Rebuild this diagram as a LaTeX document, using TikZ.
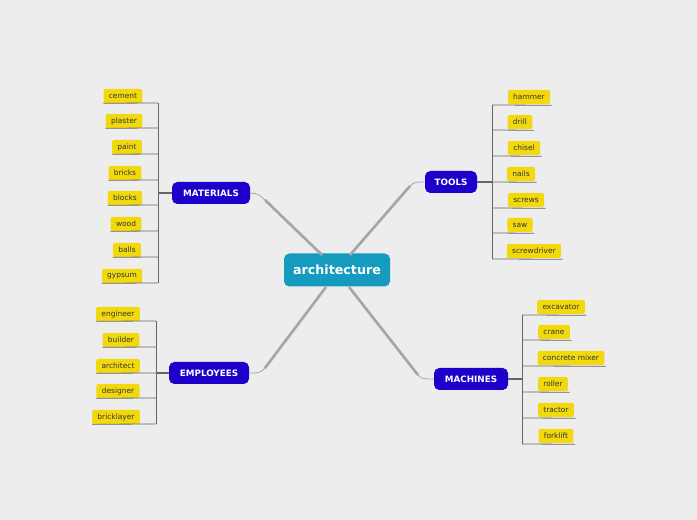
\documentclass[tikz,border=0pt]{standalone}
\usepackage{fontspec}
\setmainfont{DejaVu Sans}
\begin{document}
\begin{tikzpicture}[x=0.75pt,y=-0.75pt,
  leaf/.style={fill=yellow!85!orange!95!black,draw=none,rounded corners=1.5pt,minimum height=14*0.75pt,inner xsep=4pt,inner ysep=0pt,font=\fontsize{5.6}{6}\selectfont,text=black!80},
  topic/.style={fill=blue!75!violet!90!black,rounded corners=4pt,minimum height=22*0.75pt,inner ysep=0pt,text=white,font=\bfseries\fontsize{6.6}{7}\selectfont},
  brk/.style={draw=black!60,line width=0.6pt},
  thick link/.style={draw=black!35,line width=2pt},
  thin link/.style={draw=black!35,line width=0.6pt}]
\fill[black!7] (0,0) rectangle (697,520);
\useasboundingbox (0,0) rectangle (697,520);
\node[fill={rgb,255:red,20;green,155;blue,190},rounded corners=4pt,minimum width=106*0.75pt,minimum height=33*0.75pt,text=white,font=\bfseries\fontsize{9.5}{10}\selectfont] (c) at (337,270) {architecture};
\node[topic,minimum width=78*0.75pt] (mat) at (211,193) {MATERIALS};
\node[topic,minimum width=52*0.75pt] (tool) at (451,182) {TOOLS};
\node[topic,minimum width=80*0.75pt] (emp) at (209,373) {EMPLOYEES};
\node[topic,minimum width=74*0.75pt] (mach) at (471,379) {MACHINES};
% central links
\coordinate (m1) at (265,200); \coordinate (t1) at (410,186);
\coordinate (e1) at (265,368); \coordinate (k1) at (418,375);
\draw[thick link] (322,255) -- (m1); \draw[thin link] (m1) to[out=135,in=0] (mat.east);
\draw[thick link] (350,255) -- (t1); \draw[thin link] (t1) to[out=50,in=180] (tool.west);
\draw[thick link] (326,287) -- (e1); \draw[thin link] (e1) to[out=-125,in=0] (emp.east);
\draw[thick link] (349,287) -- (k1); \draw[thin link] (k1) to[out=-50,in=180] (mach.west);
% materials
\foreach \n/\t/\x/\y in {a/cement/123/96,b/plaster/124/121,c/paint/127/147,d/bricks/125/173,e/blocks/125/198,f/wood/126/224,g/balls/127/250,h/gypsum/122/276}{
  \node[leaf] (M\n) at (\x,\y) {\t};
  \draw[brk] (M\n.south west) -- (158,\y+7);}
\draw[brk] (158,103) -- (158,283);
\draw[brk,line width=0.9pt] (mat.west) -- (158,193);
% tools
\foreach \n/\t/\x/\y in {a/hammer/529/97,b/drill/520/122,c/chisel/524/148,d/nails/521/174,e/screws/526/200,f/saw/520/225,g/screwdriver/534/251}{
  \node[leaf] (T\n) at (\x,\y) {\t};
  \draw[brk] (492,\y+8) -- ([xshift=1pt,yshift=-0.75pt]T\n.south east);}
\draw[brk] (492,105) -- (492,259);
\draw[brk,line width=0.9pt] (tool.east) -- (492,182);
% employees
\foreach \n/\t/\x/\y in {a/engineer/118/314,b/builder/121/340,c/architect/118/366,d/designer/118/391,e/bricklayer/116/417}{
  \node[leaf] (E\n) at (\x,\y) {\t};
  \draw[brk] (E\n.south west) -- (156,\y+7);}
\draw[brk] (156,321) -- (156,424);
\draw[brk,line width=0.9pt] (emp.west) -- (156,373);
% machines
\foreach \n/\t/\x/\y in {a/excavator/561/307,b/crane/554/332,c/concrete mixer/571/358,d/roller/553/384,e/tractor/556/410,f/forklift/556/436}{
  \node[leaf] (K\n) at (\x,\y) {\t};
  \draw[brk] (522,\y+8) -- ([xshift=1pt,yshift=-0.75pt]K\n.south east);}
\draw[brk] (522,315) -- (522,444);
\draw[brk,line width=0.9pt] (mach.east) -- (522,379);
\end{tikzpicture}
\end{document}
